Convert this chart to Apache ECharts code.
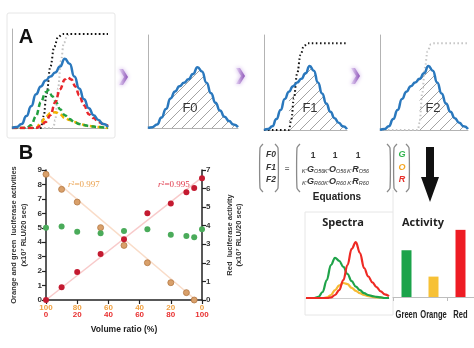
<!DOCTYPE html>
<html>
<head>
<meta charset="utf-8">
<script src="https://cdn.jsdelivr.net/npm/echarts@6/dist/echarts.min.js"></script>
<style>
  html, body { margin: 0; padding: 0; background: #fff; }
  #chart { width: 474px; height: 348px; }
</style>
</head>
<body>
<div id="chart"></div>
<script>
// ---------- Panel A: schematic emission profiles (arbitrary units) ----------
const waveSteps = [0, 5, 10, 15, 20, 25, 30, 35, 40, 45, 50, 55, 60, 65, 70, 75, 80, 85, 90, 95, 100];
const mixedProfile = [0, 1, 4, 12, 22, 34, 42, 48, 52, 56, 62, 70, 65, 52, 40, 29, 20, 13, 8, 4, 1];
const greenBand = [[0, 0], [15, 0], [20, 3], [25, 12], [30, 26], [35, 36], [38, 38], [42, 32], [46, 26], [50, 19], [55, 13], [60, 9], [65, 6], [70, 4], [75, 3], [80, 2], [90, 1], [100, 0]];
const orangeBand = [[0, 0], [25, 0], [30, 5], [35, 11], [40, 15], [45, 16], [50, 14], [55, 10], [60, 8], [65, 6], [70, 4], [80, 2], [90, 1], [100, 0]];
const redBand = [[0, 0], [25, 0], [30, 2], [35, 6], [40, 13], [45, 26], [50, 39], [55, 49], [58, 51], [62, 49], [66, 42], [70, 33], [75, 23], [80, 14], [85, 10], [90, 6], [95, 4], [100, 2]];
// long-pass filter transmission curves
const filterO56 = [[0, 0], [30, 0], [33, 12], [36, 35], [40, 62], [44, 82], [48, 92], [53, 95], [100, 95]];
const filterR60 = [[0, 0], [43, 0], [45, 8], [48, 40], [51, 68], [54, 86], [58, 94], [62, 95], [100, 95]];
const cutF1 = 30;   // start of the hatched window for F1
const cutF2 = 45;   // start of the hatched window for F2

// ---------- Panel B: volume-ratio titration ----------
const redRatio = [0, 10, 20, 35, 50, 65, 80, 90, 95, 100];
const orangeActivity = [8.70, 7.66, 6.78, 5.01, 3.78, 2.58, 1.20, 0.51, 0.00, null];
const greenActivity = [5.00, 5.08, 4.73, 4.62, 4.78, 4.89, 4.52, 4.43, 4.34, 4.89];
const redActivity = [0.00, 0.68, 1.51, 2.48, 3.27, 4.67, 5.19, 5.80, 6.03, 6.55];
const orangeFit = [[0, 8.8], [96, 0]];
const redFit = [[0, 0], [100, 6.6]];
const orangeTickLabels = ['100', '80', '60', '40', '20', '0'];
const redTickLabels = ['0', '20', '40', '60', '80', '100'];
const orangeR2 = '0.997';
const redR2 = '0.995';

// ---------- Spectra / Activity ----------
const specGreen = [0, 0, 0, 2, 10, 30, 55, 67, 62, 52, 40, 28, 19, 13, 8, 5, 3, 2, 1, 0, 0];
const specOrange = [0, 0, 0, 0, 0, 1, 5, 13, 21, 25, 23, 17, 12, 8, 5, 3, 2, 1, 1, 0, 0];
const specRed = [0, 0, 0, 0, 0, 0, 1, 5, 13, 30, 55, 82, 93, 75, 50, 36, 26, 18, 11, 6, 3];
const activityNames = ['Green', 'Orange', 'Red'];
const activityValues = [55, 24, 79];

// ---------- styling ----------
const C = {
  blue: '#2a78bd', green: '#22a040', yellow: '#f3b400', red: '#e8262b',
  ptOrange: '#d9a06a', ptOrangeEdge: '#b27742', ptGreen: '#4aab5a', ptRed: '#c41a30',
  fitOrange: '#f9dcc8', fitRed: '#f8caca',
  barGreen: '#1ba34a', barOrange: '#f7c136', barRed: '#ee1c24',
  lblOrange: '#f0a040', lblRed: '#e83030'
};
const FONT = 'Liberation Sans';

const pairs = (xs, ys) => xs.map((x, i) => [x, ys[i]]);

function hatchTile() {
  const s = 10;
  const c = document.createElement('canvas');
  c.width = s; c.height = s;
  const g = c.getContext('2d');
  g.strokeStyle = '#8c8c8c';
  g.lineWidth = 0.8;
  g.beginPath();
  g.moveTo(0, s); g.lineTo(s, 0);
  g.moveTo(-1, 1); g.lineTo(1, -1);
  g.moveTo(s - 1, s + 1); g.lineTo(s + 1, s - 1);
  g.stroke();
  return c;
}
const hatch = { image: hatchTile(), repeat: 'repeat' };

function miniX(gi) {
  return { type: 'value', gridIndex: gi, min: 0, max: 100,
    axisLine: { show: true, onZero: false, lineStyle: { color: '#b3b3b3', width: 1 } },
    axisTick: { show: false }, axisLabel: { show: false }, splitLine: { show: false } };
}
function miniY(gi, max) {
  return { type: 'value', gridIndex: gi, min: 0, max: max,
    axisLine: { show: true, onZero: false, lineStyle: { color: '#b3b3b3', width: 1 } },
    axisTick: { show: false }, axisLabel: { show: false }, splitLine: { show: false } };
}
function curve(xi, data, color, width, type, z, sm) {
  return { type: 'line', xAxisIndex: xi, yAxisIndex: xi, data: data, symbol: 'none',
    smooth: sm || 0.4, smoothMonotone: 'x', silent: true, z: z || 2,
    lineStyle: { color: color, width: width, type: type || 'solid' } };
}

const mixed = pairs(waveSteps, mixedProfile);
const dotted = [1.5, 2.5];
const dashed = [5, 3];

const series = [
  // A1: components, filters and the mixture
  curve(0, filterR60, '#c4c4c4', 2, dotted, 2),
  curve(0, filterO56, '#111', 2, dotted, 3),
  curve(0, orangeBand, C.yellow, 2.5, dashed, 3),
  curve(0, greenBand, C.green, 2.5, dashed, 3),
  curve(0, redBand, C.red, 2.5, dashed, 3),
  curve(0, mixed, C.blue, 2.5, 'solid', 5, 0.55),
  // A2: total signal F0
  Object.assign(curve(1, mixed, C.blue, 2.5, 'solid', 5, 0.55), { areaStyle: { color: hatch, opacity: 1 } }),
  // A3: signal through the O56 filter, F1
  Object.assign(curve(2, mixed.filter(p => p[0] >= cutF1), C.blue, 0, 'solid', 2, 0.55), { areaStyle: { color: hatch, opacity: 1 } }),
  curve(2, mixed, C.blue, 2.5, 'solid', 5, 0.55),
  curve(2, filterO56, '#111', 2, dotted, 4),
  // A4: signal through the R60 filter, F2
  Object.assign(curve(3, mixed.filter(p => p[0] >= cutF2), C.blue, 0, 'solid', 2, 0.55), { areaStyle: { color: hatch, opacity: 1 } }),
  curve(3, mixed, C.blue, 2.5, 'solid', 5, 0.55),
  curve(3, filterR60, '#c4c4c4', 2, dotted, 4),
  // B: regression lines
  { type: 'line', xAxisIndex: 4, yAxisIndex: 4, data: orangeFit, symbol: 'none', silent: true, z: 1,
    lineStyle: { color: C.fitOrange, width: 1.5 } },
  { type: 'line', xAxisIndex: 4, yAxisIndex: 5, data: redFit, symbol: 'none', silent: true, z: 1,
    lineStyle: { color: C.fitRed, width: 1.5 } },
  // B: measured points
  { type: 'scatter', xAxisIndex: 4, yAxisIndex: 4, data: pairs(redRatio, orangeActivity).filter(p => p[1] !== null),
    symbolSize: 6, z: 4, itemStyle: { color: C.ptOrange, borderColor: C.ptOrangeEdge, borderWidth: 0.8, opacity: 1 } },
  { type: 'scatter', xAxisIndex: 4, yAxisIndex: 4, data: pairs(redRatio, greenActivity),
    symbolSize: 6, z: 4, itemStyle: { color: C.ptGreen, opacity: 1 } },
  { type: 'scatter', xAxisIndex: 4, yAxisIndex: 5, data: pairs(redRatio, redActivity),
    symbolSize: 6, z: 5, itemStyle: { color: C.ptRed, opacity: 1 } },
  // Spectra
  Object.assign(curve(5, pairs(waveSteps, specOrange), '#f6b933', 2.2), { yAxisIndex: 6 }),
  Object.assign(curve(5, pairs(waveSteps, specGreen), '#1fa34a', 2.2), { yAxisIndex: 6 }),
  Object.assign(curve(5, pairs(waveSteps, specRed), '#ee2a24', 2.2), { yAxisIndex: 6 }),
  // Activity
  { type: 'bar', xAxisIndex: 6, yAxisIndex: 7, barWidth: 10, silent: true,
    data: activityValues.map((v, i) => ({ value: v, itemStyle: { color: [C.barGreen, C.barOrange, C.barRed][i] } })) }
];

const tickFont = { fontFamily: FONT, fontSize: 8, fontWeight: 'bold', color: '#333' };
const blackAxis = { show: true, onZero: false, lineStyle: { color: '#222', width: 1.5 } };
const blackTick = { show: true, length: 4, lineStyle: { color: '#222', width: 1.2 } };

const xAxes = [
  miniX(0), miniX(1), miniX(2), miniX(3),
  { type: 'value', gridIndex: 4, min: 0, max: 100, interval: 20,
    axisLine: blackAxis, axisTick: blackTick, splitLine: { show: false },
    axisLabel: { margin: 4, lineHeight: 7,
      formatter: (v) => { const i = Math.round(v / 20); return '{o|' + orangeTickLabels[i] + '}\n{r|' + redTickLabels[i] + '}'; },
      rich: { o: { fontFamily: FONT, fontSize: 8, fontWeight: 'bold', color: C.lblOrange, lineHeight: 7 },
              r: { fontFamily: FONT, fontSize: 8, fontWeight: 'bold', color: C.lblRed, lineHeight: 7 } } },
    name: 'Volume ratio (%)', nameLocation: 'middle', nameGap: 25,
    nameTextStyle: { fontFamily: FONT, fontSize: 8.5, fontWeight: 'bold', color: '#222' } },
  { type: 'value', gridIndex: 5, min: 0, max: 100,
    axisLine: { show: true, onZero: false, lineStyle: { color: '#cfcfcf', width: 1 } },
    axisTick: { show: false }, axisLabel: { show: false }, splitLine: { show: false } },
  { type: 'category', gridIndex: 6, data: activityNames,
    axisLine: { show: true, lineStyle: { color: '#bdbdbd', width: 1 } },
    axisTick: { show: true, length: 4, lineStyle: { color: '#bdbdbd' } },
    axisLabel: { show: false } }
];

const yAxes = [
  miniY(0, 100), miniY(1, 107), miniY(2, 104), miniY(3, 104),
  { type: 'value', gridIndex: 4, position: 'left', min: 0, max: 9, interval: 1,
    axisLine: blackAxis, axisTick: blackTick, splitLine: { show: false },
    axisLabel: Object.assign({ margin: 4 }, tickFont),
    name: 'Orange and green  luciferase activities\n(x10\u2077 RLU/20 sec)', nameLocation: 'middle', nameRotate: 90, nameGap: 17,
    nameTextStyle: { fontFamily: FONT, fontSize: 7.5, fontWeight: 'bold', color: '#333', lineHeight: 10 } },
  { type: 'value', gridIndex: 4, position: 'right', min: 0, max: 7, interval: 1,
    axisLine: blackAxis, axisTick: blackTick, splitLine: { show: false },
    axisLabel: Object.assign({ margin: 4 }, tickFont),
    name: 'Red  luciferase activity\n(x10\u2077 RLU/20 sec)', nameLocation: 'middle', nameRotate: 90, nameGap: 23,
    nameTextStyle: { fontFamily: FONT, fontSize: 7.5, fontWeight: 'bold', color: '#333', lineHeight: 9 } },
  { type: 'value', gridIndex: 5, min: 0, max: 100, show: false },
  { type: 'value', gridIndex: 6, min: 0, max: 100, show: false }
];

// ---------- annotations ----------
function txt(x, y, text, st) {
  return { type: 'text', x: x, y: y, silent: true, z: 10,
    style: Object.assign({ text: text, fontFamily: FONT, fontSize: 9, fill: '#222',
      align: 'center', verticalAlign: 'middle', textAlign: 'center', textVerticalAlign: 'middle' }, st || {}) };
}
function bracket(x, top, bottom, dir) {
  const d = 3 * dir;
  return { type: 'polyline', silent: true, z: 10,
    shape: { points: [[x + d, top], [x, top + 4], [x, bottom - 4], [x + d, bottom]], smooth: 0.2 },
    style: { stroke: '#8a8a8a', lineWidth: 1.3, fill: null } };
}
function chevron(cx, cy) {
  return { type: 'polygon', silent: true, z: 10,
    shape: { points: [[cx - 4, cy - 8], [cx, cy - 8], [cx + 5, cy], [cx, cy + 8], [cx - 4, cy + 8], [cx + 1, cy]] },
    style: { fill: new echarts.graphic.LinearGradient(0, 0, 1, 0, [{ offset: 0, color: '#e6d6f5' }, { offset: 1, color: '#8e55b8' }]),
      shadowBlur: 4, shadowColor: 'rgba(190,150,225,0.8)' } };
}
const kRich = {
  k: { fontFamily: FONT, fontSize: 6, fontStyle: 'italic', fill: '#333', verticalAlign: 'bottom', lineHeight: 10 },
  m: { fontFamily: FONT, fontSize: 9, fontStyle: 'italic', fontWeight: 'bold', fill: '#333', verticalAlign: 'bottom', lineHeight: 10 },
  s: { fontFamily: FONT, fontSize: 5.5, fontStyle: 'italic', fill: '#333', verticalAlign: 'bottom', lineHeight: 9 }
};
const dyeLetters = ['G', 'O', 'R'];
const dyeColors = ['#2db34a', '#f5a623', '#e8302a'];
const filterTags = ['O56', 'R60'];
const colX = [313, 335, 358];
const rowY = [156, 169, 181];

const graphics = [
  { type: 'rect', silent: true, shape: { x: 7, y: 13, width: 108, height: 125, r: 2 },
    style: { fill: null, stroke: '#e6e6e6', lineWidth: 1 } },
  txt(26, 37, 'A', { fontSize: 20, fontWeight: 'bold', fill: '#111' }),
  txt(26, 153, 'B', { fontSize: 20, fontWeight: 'bold', fill: '#111' }),
  chevron(123, 77), chevron(240, 76), chevron(355, 76),
  txt(190, 108, 'F0', { fontSize: 13, fill: '#333' }),
  txt(310, 108, 'F1', { fontSize: 13, fill: '#333' }),
  txt(433, 108, 'F2', { fontSize: 13, fill: '#333' }),
  // r-squared of the two fits
  txt(68, 185, '{i|r}{p|2}{t|=' + orangeR2 + '}', { align: 'left', textAlign: 'left',
    rich: { i: { fontFamily: 'Liberation Serif', fontStyle: 'italic', fontSize: 9, fill: '#eba24f' },
            p: { fontFamily: 'Liberation Serif', fontSize: 6, fill: '#eba24f', verticalAlign: 'top' },
            t: { fontFamily: 'Liberation Serif', fontSize: 9, fill: '#eba24f' } } }),
  txt(158, 185, '{i|r}{p|2}{t|=' + redR2 + '}', { align: 'left', textAlign: 'left',
    rich: { i: { fontFamily: 'Liberation Serif', fontStyle: 'italic', fontSize: 9, fill: '#e0384a' },
            p: { fontFamily: 'Liberation Serif', fontSize: 6, fill: '#e0384a', verticalAlign: 'top' },
            t: { fontFamily: 'Liberation Serif', fontSize: 9, fill: '#e0384a' } } }),
  // equation block
  bracket(260, 144, 192, 1), bracket(278, 144, 192, -1),
  bracket(297, 144, 192, 1), bracket(390, 144, 192, -1),
  bracket(394, 144, 192, 1), bracket(409, 144, 192, -1),
  txt(287, 169, '=', { fontSize: 8, fontWeight: 'bold', fill: '#777' }),
  txt(337, 197, 'Equations', { fontSize: 10, fontWeight: 'bold', fill: '#222' }),
  { type: 'polygon', silent: true, z: 10,
    shape: { points: [[426, 147], [434, 147], [434, 177], [439, 177], [430, 202], [421, 177], [426, 177]] },
    style: { fill: '#111' } },
  // frames of the result panels
  { type: 'rect', silent: true, shape: { x: 305, y: 212, width: 88, height: 103 },
    style: { fill: null, stroke: '#e6e6e6', lineWidth: 1 } },
  { type: 'line', silent: true, shape: { x1: 393, y1: 190, x2: 393, y2: 212 },
    style: { stroke: '#e6e6e6', lineWidth: 1 } },
  txt(343, 223, 'Spectra', { fontFamily: 'Open Sans', fontSize: 11, fontWeight: 'bold', fill: '#222' }),
  txt(423, 223, 'Activity', { fontFamily: 'Open Sans', fontSize: 11, fontWeight: 'bold', fill: '#222' })
];
['F0', 'F1', 'F2'].forEach((f, i) => graphics.push(
  txt(266, rowY[i] - 1, f, { fontSize: 8.5, fontWeight: 'bold', fontStyle: 'italic', fill: '#333', align: 'left', textAlign: 'left' })));
colX.forEach((x) => graphics.push(txt(x, rowY[0], '1', { fontSize: 8.5, fontWeight: 'bold', fill: '#333' })));
filterTags.forEach((tag, r) => dyeLetters.forEach((d, c) => graphics.push(
  txt(colX[c], rowY[r + 1], "{k|K'}{m|" + d + '}{s|' + tag + '}', { rich: kRich }))));
dyeLetters.forEach((d, i) => graphics.push(
  txt(402, rowY[i] - 1, d, { fontSize: 9, fontWeight: 'bold', fontStyle: 'italic', fill: dyeColors[i] })));

const gridBase = { containLabel: false, outerBoundsMode: 'none' };
const option = {
  animation: false,
  backgroundColor: '#fff',
  grid: [
    { left: 12, top: 29, width: 96, height: 99 },
    { left: 148, top: 35, width: 90, height: 93 },
    { left: 264, top: 35, width: 83, height: 95 },
    { left: 380, top: 35, width: 88, height: 95 },
    { left: 46, top: 170, width: 156, height: 130 },
    { left: 306, top: 238, width: 83, height: 60 },
    { left: 393, top: 212, width: 81, height: 85 }
  ].map(g => Object.assign({}, gridBase, g)),
  xAxis: xAxes,
  yAxis: yAxes,
  series: series,
  graphic: { elements: graphics }
};

const chart = echarts.init(document.getElementById('chart'), null, { renderer: 'canvas', width: 474, height: 348 });
chart.setOption(option);

// condensed category captions under the activity bars, centred on each band
chart.setOption({ graphic: { elements: graphics.concat(activityNames.map((name) => {
  const p = chart.convertToPixel({ xAxisIndex: 6, yAxisIndex: 7 }, [name, 0]);
  return { type: 'text', x: p[0], y: p[1] + 18, scaleX: 0.72, scaleY: 1, silent: true, z: 10,
    style: { text: name, fontFamily: FONT, fontSize: 10.5, fontWeight: 'bold', fill: '#222',
      align: 'center', verticalAlign: 'middle', textAlign: 'center', textVerticalAlign: 'middle' } };
})) } });
</script>
</body>
</html>
